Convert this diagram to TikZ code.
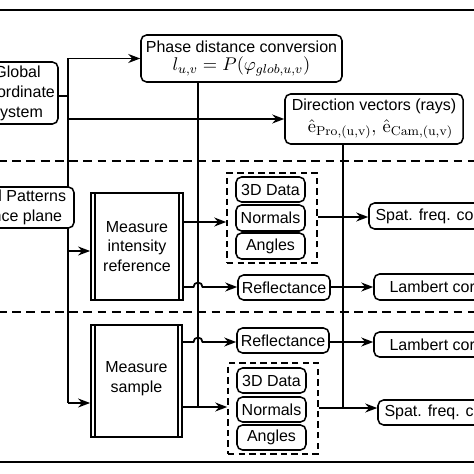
\RequirePackage{fix-cm}
\documentclass[tikz,border=0pt]{standalone}
\usepackage[no-math]{fontspec}
\setmainfont{Liberation Sans}
\usetikzlibrary{arrows.meta,backgrounds}
\newcommand{\mathsz}{\fontsize{11.5}{14}\selectfont}
\begin{document}
\begin{tikzpicture}[x=0.625pt,y=-0.625pt,
  box/.style={draw, line width=0.95pt, rounded corners=3.5pt, fill=white, inner sep=0pt, align=center, font=\fontsize{10}{12.5}\selectfont},
  proc/.style={draw, line width=1.1pt, fill=white, inner sep=0pt, align=center, font=\fontsize{10}{12}\selectfont},
  grp/.style={draw, line width=0.95pt, dash pattern=on 4pt off 2.6pt},
  arr/.style={-{Stealth[length=7.5pt,width=5.6pt]}, line width=1.1pt},
  ln/.style={line width=1.1pt},
  sep/.style={line width=1.5pt, dash pattern=on 5.5pt off 3.4pt},
  frameline/.style={line width=1.8pt}]
\useasboundingbox (0,0) rectangle (474,474);
\clip (0,0) rectangle (474,474);

% frame and separators
\draw[frameline] (-10,10) -- (484,10);
\draw[frameline] (-10,462) -- (484,462);
\draw[sep] (-2,161) -- (480,161);
\draw[sep] (-2,312) -- (480,312);

% nodes
\node[box, minimum width=81*0.625pt, minimum height=62*0.625pt] (glob) at (17.5,93) {Global\\coordinate\\system};
\node[box, minimum width=201*0.625pt, minimum height=47*0.625pt] (phase) at (241.5,58.5) {Phase distance conversion\\[-1pt] {\mathsz $l_{u,v} = P(\varphi_{glob,u,v})$}};
\node[box, minimum width=178*0.625pt, minimum height=50*0.625pt] (dir) at (374,119) {Direction vectors (rays)\\[1pt] {\mathsz\hspace{8pt}$\hat{\mathrm{e}}_{\mathrm{Pro},(\mathrm{u},\mathrm{v})},\, \hat{\mathrm{e}}_{\mathrm{Cam},(\mathrm{u},\mathrm{v})}$}};
\node[box, minimum width=135*0.625pt, minimum height=41*0.625pt] (pat) at (6.5,207.5) {Original Patterns\\reference plane};

\node[proc, minimum width=92*0.625pt, minimum height=107*0.625pt] (mir) at (137,246.5) {Measure\\intensity\\reference};
\node[proc, minimum width=91*0.625pt, minimum height=112*0.625pt] (ms) at (136.5,381) {Measure\\sample\\[-7pt]};
\foreach \n in {mir,ms}{
  \draw[line width=1.1pt] ([xshift=3.1pt]\n.north west) -- ([xshift=3.1pt]\n.south west);
  \draw[line width=1.1pt] ([xshift=-3.1pt]\n.north east) -- ([xshift=-3.1pt]\n.south east);
}

% upper group
\node[grp, minimum width=90*0.625pt, minimum height=90*0.625pt] (g1) at (272,218) {};
\node[box, minimum width=69*0.625pt, minimum height=25*0.625pt] (d1) at (270.5,189.5) {3D Data};
\node[box, minimum width=69*0.625pt, minimum height=26*0.625pt] (n1) at (270.5,218) {Normals};
\node[box, minimum width=69*0.625pt, minimum height=26*0.625pt] (a1) at (270.5,246) {Angles};
\node[box, minimum width=92*0.625pt, minimum height=25*0.625pt] (r1) at (284,287.5) {Reflectance};
\node[box, minimum width=164.5*0.625pt, minimum height=26*0.625pt] (s1) at (451.25,216) {Spat. freq. correction};
\node[box, minimum width=164.5*0.625pt, minimum height=26*0.625pt] (l1) at (456.25,287) {Lambert correction};

% lower group
\node[box, minimum width=92*0.625pt, minimum height=25*0.625pt] (r2) at (283,340.5) {Reflectance};
\node[box, minimum width=164.5*0.625pt, minimum height=25*0.625pt] (l2) at (456.25,344.5) {Lambert correction};
\node[grp, minimum width=90*0.625pt, minimum height=91*0.625pt] (g2) at (273,408.5) {};
\node[box, minimum width=69*0.625pt, minimum height=25*0.625pt] (d2) at (271.5,380.5) {3D Data};
\node[box, minimum width=69*0.625pt, minimum height=25*0.625pt] (n2) at (271.5,409.5) {Normals};
\node[box, minimum width=69*0.625pt, minimum height=25*0.625pt] (a2) at (271.5,437.5) {Angles};
\node[box, minimum width=164.5*0.625pt, minimum height=25*0.625pt] (s2) at (460.25,412.5) {Spat. freq. correction};

% connectors
\begin{scope}[on background layer]
\coordinate (bus) at (68,58.5);
\coordinate (busb) at (68,403);
\coordinate (pb) at (198,407);
\coordinate (db) at (343,408);
\draw[ln] (glob.east |- 0,96) -- (bus |- 0,96);
\draw[ln] (bus) -- (busb);
\draw[arr] (bus) -- (phase.west);
\draw[arr] (bus |- dir.west) -- (dir.west);
\draw[arr] (bus |- 0,251) -- (mir.west |- 0,251);
\draw[arr] (busb) -- (ms.west |- busb);

\draw[ln] (phase.south -| pb) -- (pb);
\draw[arr] (mir.east |- 0,222) -- (g1.west |- 0,222);
\draw[arr] (mir.east |- 0,287) -- (193.5,287) arc[start angle=180, end angle=360, radius=4.5] -- (r1.west |- 0,287);
\draw[arr] (ms.east |- 0,342) -- (193.5,342) arc[start angle=180, end angle=360, radius=4.5] -- (r2.west |- 0,342);
\draw[arr] (ms.east |- pb) -- (g2.west |- pb);

\draw[ln] (dir.south -| db) -- (db);
\draw[arr] (g1.east |- 0,217) -- (s1.west |- 0,217);
\draw[arr] (r1.east |- 0,287) -- (l1.west |- 0,287);
\draw[arr] (r2.east |- 0,342) -- (l2.west |- 0,342);
\draw[arr] (g2.east |- db) -- (s2.west |- db);
\end{scope}
\end{tikzpicture}
\end{document}
